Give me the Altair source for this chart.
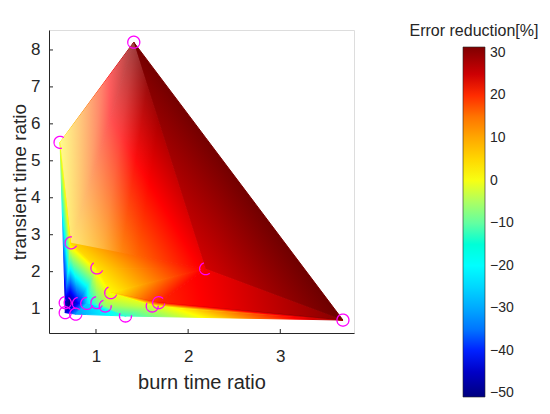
import math
import numpy as np
import pandas as pd
import altair as alt

# ---------------- data ----------------
burn = [1.41, 0.61, 0.73, 1.01, 2.19, 3.68, 1.16, 1.61, 1.68, 1.32, 1.10,
        0.666, 0.72, 0.81, 0.90, 1.01, 0.666, 0.78]
transient = [8.21, 5.50, 2.78, 2.10, 2.08, 0.69, 1.43, 1.07, 1.16, 0.80, 1.07,
             1.16, 1.16, 1.14, 1.14, 1.16, 0.89, 0.85]
err_red = [31.4, 1.0, 4.0, 3.0, 22.0, 31.0, 1.0, -3.0, 18.0, -16.0, -8.0,
           -46.0, -50.9, -40.0, -24.0, -12.0, -44.0, -28.0]
# triangulation (indices into the point arrays)
triangles = [(0, 4, 5), (0, 1, 2), (0, 2, 4), (2, 3, 4), (3, 6, 4), (6, 8, 4),
             (8, 5, 4), (1, 11, 2), (2, 11, 12), (2, 12, 13), (2, 13, 3),
             (3, 13, 14), (3, 14, 15), (3, 15, 6), (6, 15, 10), (6, 10, 7),
             (6, 7, 8), (10, 9, 7), (7, 9, 5), (7, 5, 8), (14, 10, 15),
             (11, 16, 12), (12, 16, 17), (12, 17, 13), (13, 17, 14),
             (14, 17, 9), (14, 9, 10)]
lit_face = [1, 0, 2, 4]   # points bounding the light-reflecting upper-left faces
x_ticks = [1, 2, 3]
y_ticks = [1, 2, 3, 4, 5, 6, 7, 8]
cbar_ticks = [-50, -40, -30, -20, -10, 0, 10, 20, 30]

# ---------------- layout / style ----------------
W, H = 305, 303
XD = [0.49, 3.80]
YD = [0.34, 8.54]
INK = "#262626"
FONT = "Liberation Sans"
RING = "#ff00ff"
CMIN, CMAX = min(err_red), max(err_red)


def jet(t):
    t = min(max(t, 0.0), 1.0)
    r = min(max(1.5 - abs(4 * t - 3), 0), 1)
    g = min(max(1.5 - abs(4 * t - 2), 0), 1)
    b = min(max(1.5 - abs(4 * t - 1), 0), 1)
    return "#%02x%02x%02x" % (round(r * 255), round(g * 255), round(b * 255))


def tval(v):
    return (v - CMIN) / (CMAX - CMIN)


JET_T = [0.0, 0.125, 0.375, 0.625, 0.875, 1.0]
jet_domain = [CMIN + t * (CMAX - CMIN) for t in JET_T]
jet_range = [jet(t) for t in JET_T]
breaks = jet_domain[1:-1]


def tri_gradient(ids):
    xs = np.array([burn[i] for i in ids])
    ys = np.array([transient[i] for i in ids])
    zs = np.array([err_red[i] for i in ids])
    u = (xs - xs.min()) / (xs.max() - xs.min())
    v = (ys.max() - ys) / (ys.max() - ys.min())
    a, b, c = np.linalg.solve(np.column_stack([u, v, np.ones(3)]), zs)
    zmin, zmax = zs.min(), zs.max()
    g2 = a * a + b * b
    if zmax - zmin < 1e-9 or g2 < 1e-12:
        return jet(tval(zmin))
    k = (zmax - zmin) / g2
    i0 = int(np.argmin(zs))
    x1, y1 = u[i0], v[i0]
    x2, y2 = x1 + a * k, y1 + b * k
    vals = [zmin] + [bp for bp in breaks if zmin < bp < zmax] + [zmax]
    stops = [alt.GradientStop(offset=float((vv - zmin) / (zmax - zmin)),
                              color=jet(tval(vv))) for vv in vals]
    return alt.LinearGradient(gradient="linear", stops=stops,
                              x1=float(x1), y1=float(y1),
                              x2=float(x2), y2=float(y2))


def poly_area_rows(ids):
    """convex polygon -> rows (x, lower y, upper y) for an area mark"""
    pts = [(burn[i], transient[i]) for i in ids]
    xs = sorted(set(p[0] for p in pts))
    n = len(pts)
    rows = []
    for xv in xs:
        ys = []
        for k in range(n):
            (xa, ya), (xb, yb) = pts[k], pts[(k + 1) % n]
            lo, hi = min(xa, xb), max(xa, xb)
            if lo - 1e-12 <= xv <= hi + 1e-12:
                if abs(xb - xa) < 1e-12:
                    ys += [ya, yb]
                else:
                    ys.append(ya + (yb - ya) * (xv - xa) / (xb - xa))
        rows.append((xv, min(ys), max(ys)))
    return pd.DataFrame(rows, columns=["bx", "ty", "ty2"])


# ----- ring markers: the part lying under the surface is hidden -----
sx = W / (XD[1] - XD[0])
sy = H / (YD[1] - YD[0])
R = 6.0


def surface_z(px, py):
    for ids in triangles:
        (ax, ay), (bx_, by_), (cx, cy) = [(burn[i], transient[i]) for i in ids]
        den = (by_ - cy) * (ax - cx) + (cx - bx_) * (ay - cy)
        l1 = ((by_ - cy) * (px - cx) + (cx - bx_) * (py - cy)) / den
        l2 = ((cy - ay) * (px - cx) + (ax - cx) * (py - cy)) / den
        l3 = 1.0 - l1 - l2
        if min(l1, l2, l3) >= -1e-9:
            return (l1 * err_red[ids[0]] + l2 * err_red[ids[1]]
                    + l3 * err_red[ids[2]])
    return None


ring_rows = []
n_ang = 72
step = 2 * math.pi / n_ang
seg_id = 0
for i in range(len(burn)):
    ang = [step * k for k in range(n_ang)]
    dz = []
    for th in ang:
        zs = surface_z(burn[i] + R * math.cos(th) / sx,
                       transient[i] - R * math.sin(th) / sy)
        dz.append(-1e9 if zs is None else zs - err_red[i])
    dmax = max(dz)
    vis = [dd <= max(0.15, 0.3 * dmax) for dd in dz]
    if all(vis):
        segs = [(0.0, 2 * math.pi)]
    else:
        start = vis.index(False)
        segs, cur = [], []
        for s in range(1, n_ang + 1):
            k = (start + s) % n_ang
            if vis[k]:
                cur.append(ang[start] + s * step)
            else:
                if cur:
                    segs.append((cur[0] - step / 2, cur[-1] + step / 2))
                cur = []
        if cur:
            segs.append((cur[0] - step / 2, cur[-1] + step / 2))
    for a, b in segs:
        m = max(2, int(round((b - a) / (step / 2))))
        for j in range(m + 1):
            th = a + (b - a) * j / m
            ring_rows.append({"seg": seg_id, "k": j,
                              "bx": burn[i] + R * math.cos(th) / sx,
                              "ty": transient[i] - R * math.sin(th) / sy})
        seg_id += 1
ring_df = pd.DataFrame(ring_rows)

# ---------------- encodings ----------------
xscale = alt.Scale(domain=XD, nice=False, zero=False)
yscale = alt.Scale(domain=YD, nice=False, zero=False)
xaxis = alt.Axis(title="burn time ratio", values=x_ticks, format="d",
                 tickSize=0, labelPadding=15, labelFontSize=17, labelColor=INK,
                 labelFont=FONT, titleFont=FONT, titleFontSize=20,
                 titleFontWeight="normal", titleColor=INK, domainColor=INK,
                 domainWidth=1, grid=False, titleX=W / 2, titleY=55,
                 titleBaseline="alphabetic")
yaxis = alt.Axis(title="transient time ratio", values=y_ticks, format="d",
                 tickSize=0, labelPadding=9, labelFontSize=17, labelColor=INK,
                 labelFont=FONT, titleFont=FONT, titleFontSize=19,
                 titleFontWeight="normal", titleColor=INK, domainColor=INK,
                 domainWidth=1, grid=False, titleX=-29.5, titleY=H / 2,
                 titleBaseline="middle")


def X(f):
    return alt.X(f, type="quantitative", scale=xscale, axis=xaxis)


def Y(f):
    return alt.Y(f, type="quantitative", scale=yscale, axis=yaxis)


layers = []
for ids in triangles:
    grad = tri_gradient(ids)
    layers.append(
        alt.Chart(poly_area_rows(ids)).mark_area(
            fill=grad, stroke=grad, strokeWidth=1.0, interpolate="linear",
            opacity=1
        ).encode(x=X("bx"), y=Y("ty"), y2=alt.Y2("ty2"))
    )

# light reflection on the upper-left faces, shading on the far right face
shine = alt.LinearGradient(
    gradient="linear", x1=0.0, y1=0.45, x2=0.62, y2=0.6,
    stops=[alt.GradientStop(offset=0.0, color="rgba(255,255,255,0.55)"),
           alt.GradientStop(offset=0.35, color="rgba(255,255,255,0.42)"),
           alt.GradientStop(offset=0.62, color="rgba(255,255,255,0.24)"),
           alt.GradientStop(offset=0.82, color="rgba(255,255,255,0.05)"),
           alt.GradientStop(offset=1.0, color="rgba(255,255,255,0.0)")])
shade = alt.LinearGradient(
    gradient="linear", x1=0.0, y1=0.5, x2=1.0, y2=0.5,
    stops=[alt.GradientStop(offset=0.0, color="rgba(50,0,0,0.15)"),
           alt.GradientStop(offset=0.4, color="rgba(50,0,0,0.18)"),
           alt.GradientStop(offset=1.0, color="rgba(50,0,0,0.3)")])
layers.append(
    alt.Chart(poly_area_rows(lit_face)).mark_area(
        fill=shine, interpolate="linear", opacity=1
    ).encode(x=X("bx"), y=Y("ty"), y2=alt.Y2("ty2"))
)
layers.append(
    alt.Chart(poly_area_rows(triangles[0])).mark_area(
        fill=shade, interpolate="linear", opacity=1
    ).encode(x=X("bx"), y=Y("ty"), y2=alt.Y2("ty2"))
)

rings = alt.Chart(ring_df).mark_line(
    color=RING, strokeWidth=1.3, opacity=1, interpolate="linear"
).encode(x=X("bx"), y=Y("ty"), detail="seg:N", order="k:Q")

pts_df = pd.DataFrame({"bx": burn, "ty": transient, "err": err_red})
legend_layer = alt.Chart(pts_df).mark_circle(size=0, opacity=1).encode(
    x=X("bx"), y=Y("ty"),
    color=alt.Color("err:Q",
                    scale=alt.Scale(domain=jet_domain, range=jet_range),
                    legend=alt.Legend(title=None, orient="none", legendX=414,
                                      legendY=17, direction="vertical",
                                      gradientLength=350, gradientThickness=22,
                                      values=cbar_ticks, format="d",
                                      labelFontSize=14, labelFont=FONT,
                                      labelColor=INK, labelOffset=5,
                                      labelOverlap=False, gradientOpacity=1,
                                      gradientStrokeColor=INK,
                                      gradientStrokeWidth=0.6)))

xt = alt.Chart(pd.DataFrame({"v": x_ticks})).mark_rule(
    color=INK, strokeWidth=1).encode(x=X("v"), y=alt.value(H), y2=alt.value(H - 4))
yt = alt.Chart(pd.DataFrame({"v": y_ticks})).mark_rule(
    color=INK, strokeWidth=1).encode(y=Y("v"), x=alt.value(0), x2=alt.value(4))

cb_title = alt.Chart(pd.DataFrame({"t": ["Error reduction[%]"]})).mark_text(
    fontSize=16, font=FONT, color=INK, align="center", baseline="alphabetic"
).encode(x=alt.value(425), y=alt.value(6), text="t:N")

chart = alt.layer(*layers, rings, legend_layer, xt, yt, cb_title).properties(
    width=W, height=H,
    padding={"left": 41, "top": 22, "right": 188, "bottom": 73},
    autosize=alt.AutoSizeParams(type="none"),
).configure_view(strokeWidth=0).configure(font=FONT, background="white")

chart.save("out.html", embed_options={"renderer": "svg", "actions": False})
